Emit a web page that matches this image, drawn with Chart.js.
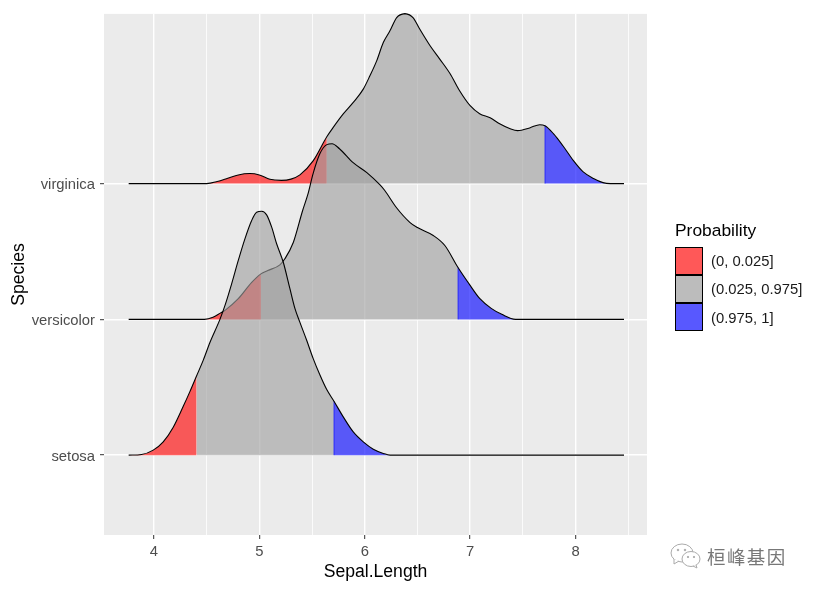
<!DOCTYPE html>
<html>
<head>
<meta charset="utf-8">
<title>Sepal.Length ridges</title>
<script src="https://cdn.jsdelivr.net/npm/chart.js@4"></script>
<style>
    body { margin: 0; background: #fff; font-family: "Liberation Sans", Arial, sans-serif; }
    #wrap { position: relative; width: 813px; height: 592px; overflow: hidden; }
    canvas { position: absolute; left: 0; top: 0; }
    .abs { position: absolute; white-space: nowrap; }
    .swatch { position: absolute; left: 675px; width: 26px; height: 26px; border: 1px solid #000; }
    .lab { font-size: 14.8px; color: #1a1a1a; left: 711px; line-height: 16px; }
    #watermark { left: 707px; top: 543px; font: 18.5px "Noto Sans CJK SC"; color: #777; line-height: 26px; letter-spacing: 1.4px; }
</style>
</head>
<body>
<div id="wrap">
    <canvas id="chart" width="813" height="592"></canvas>

    <div class="abs" style="left:675px;top:220px;font-size:17.4px;color:#000;line-height:20px">Probability</div>
    <div class="swatch" style="top:247px;background:#FF5858"></div>
    <div class="swatch" style="top:275px;background:#BCBCBC"></div>
    <div class="swatch" style="top:303px;background:#5858FF"></div>
    <div class="abs lab" style="top:253px">(0, 0.025]</div>
    <div class="abs lab" style="top:281px">(0.025, 0.975]</div>
    <div class="abs lab" style="top:310px">(0.975, 1]</div>

    <svg class="abs" style="left:669px;top:543px" width="34" height="28" viewBox="0 0 34 28" fill="#fff" stroke="#aaa" stroke-width="1">
        <ellipse cx="13" cy="10" rx="11" ry="9"/>
        <path d="M5 16 L5 21 L10 18"/>
        <ellipse cx="22" cy="16" rx="9" ry="7.5"/>
        <path d="M27 22 L28 25 L24 23"/>
        <circle cx="9" cy="7" r="0.8" fill="#999"/><circle cx="16" cy="7" r="0.8" fill="#999"/>
        <circle cx="19" cy="14" r="0.7" fill="#999"/><circle cx="25" cy="14" r="0.7" fill="#999"/>
    </svg>
    <div class="abs" id="watermark">桓峰基因</div>
</div>

<script>
document.addEventListener('DOMContentLoaded', () => {
    // 1. Data (x = Sepal.Length, heights in y axis units)
    const species = ['setosa', 'versicolor', 'virginica'];
    const xTicks = [4, 5, 6, 7, 8];
    const xMinorTicks = [4.5, 5.5, 6.5, 7.5, 8.5];
    const legendColors = ['#FF0000A0', '#A0A0A0A0', '#0000FFA0'];

    const setosaX = [3.76, 3.883, 3.993, 4.088, 4.183, 4.278, 4.342, 4.405, 4.468, 4.531, 4.626, 4.674, 4.737, 4.8, 4.863, 4.927, 4.974, 5.022, 5.069, 5.117, 5.164, 5.227, 5.29, 5.338, 5.385, 5.449, 5.511, 5.575, 5.638, 5.708, 5.796, 5.891, 5.986, 6.081, 6.176, 6.24, 8.46];
    const setosaH = [0, 0.005, 0.037, 0.098, 0.206, 0.36, 0.47, 0.585, 0.7, 0.83, 1.0, 1.103, 1.262, 1.434, 1.593, 1.728, 1.789, 1.796, 1.77, 1.679, 1.557, 1.421, 1.226, 1.079, 0.978, 0.846, 0.711, 0.59, 0.485, 0.397, 0.282, 0.171, 0.098, 0.044, 0.013, 0, 0];
    const setosaCuts = [4.405, 5.708];

    const versicolorX = [3.76, 4.48, 4.56, 4.63, 4.674, 4.8, 4.927, 5.015, 5.08, 5.195, 5.242, 5.322, 5.41, 5.46, 5.51, 5.575, 5.64, 5.69, 5.76, 5.89, 6.02, 6.145, 6.19, 6.3, 6.43, 6.5, 6.65, 6.76, 6.885, 7.0, 7.09, 7.2, 7.3, 7.43, 8.46];
    const versicolorH = [0, 0, 0.015, 0.046, 0.066, 0.152, 0.272, 0.335, 0.36, 0.402, 0.446, 0.566, 0.8, 0.92, 1.074, 1.221, 1.287, 1.294, 1.257, 1.154, 1.081, 0.99, 0.949, 0.824, 0.713, 0.676, 0.618, 0.544, 0.382, 0.25, 0.154, 0.081, 0.037, 0, 0];
    const versicolorCuts = [5.015, 6.885];

    const virginicaX = [3.76, 4.5, 4.6, 4.7, 4.8, 4.91, 5.0, 5.1, 5.21, 5.3, 5.385, 5.51, 5.64, 5.701, 5.796, 5.891, 5.986, 6.049, 6.113, 6.176, 6.239, 6.303, 6.381, 6.46, 6.52, 6.62, 6.71, 6.81, 6.9, 7.0, 7.09, 7.19, 7.28, 7.38, 7.45, 7.57, 7.66, 7.71, 7.79, 7.88, 7.98, 8.07, 8.17, 8.26, 8.33, 8.46];
    const virginicaH = [0, 0, 0.015, 0.039, 0.064, 0.074, 0.064, 0.032, 0.024, 0.033, 0.064, 0.167, 0.345, 0.414, 0.513, 0.598, 0.696, 0.794, 0.904, 1.039, 1.125, 1.223, 1.252, 1.221, 1.14, 1.015, 0.919, 0.809, 0.684, 0.574, 0.515, 0.485, 0.441, 0.404, 0.39, 0.412, 0.434, 0.426, 0.368, 0.279, 0.169, 0.088, 0.037, 0.007, 0, 0];
    const virginicaCuts = [5.64, 7.71];

    // 2. Build the datasets, back ridge gets the highest order
    const datasets = [];
    let order = 100;

    function addRidge(base, xs, hs, cuts) {
        const pts = xs.map((x, i) => ({ x: x, y: base + hs[i] }));
        const line = (data, extra) => Object.assign({
            data: data,
            order: order--,
            borderWidth: 0,
            pointRadius: 0,
            cubicInterpolationMode: 'monotone',
            clip: false,
            fill: false
        }, extra);

        const parts = [
            pts.filter(p => p.x <= cuts[0]),
            pts.filter(p => p.x >= cuts[0] && p.x <= cuts[1]),
            pts.filter(p => p.x >= cuts[1])
        ];
        parts.forEach((part, i) => {
            datasets.push(line(part, { fill: { target: { value: base } }, backgroundColor: legendColors[i] }));
        });

        // darker edge where the blue tail starts
        const edge = pts.find(p => p.x === cuts[1]);
        datasets.push(line([{ x: cuts[1], y: base }, edge], { borderWidth: 1, borderColor: '#0000FFA0', cubicInterpolationMode: 'default' }));

        datasets.push(line(pts, { borderWidth: 1.1, borderColor: '#000' }));
    }

    addRidge(3, virginicaX, virginicaH, virginicaCuts);
    addRidge(2, versicolorX, versicolorH, versicolorCuts);
    addRidge(1, setosaX, setosaH, setosaCuts);

    // 3. Grey panel behind everything
    const panelBackground = {
        id: 'panelBackground',
        beforeDraw(chart) {
            const a = chart.chartArea;
            chart.ctx.fillStyle = '#EBEBEB';
            chart.ctx.fillRect(a.left, a.top, a.right - a.left, a.bottom - a.top);
        }
    };

    const isMajor = v => xTicks.includes(v);

    // 4. Chart
    new Chart(document.getElementById('chart').getContext('2d'), {
        type: 'line',
        data: { datasets: datasets },
        plugins: [panelBackground],
        options: {
            responsive: false,
            animation: false,
            events: [],
            layout: { padding: { top: 13, right: 166, left: 0, bottom: 0 } },
            plugins: { legend: { display: false }, tooltip: { enabled: false } },
            scales: {
                x: {
                    type: 'linear',
                    min: 3.526,
                    max: 8.678,
                    afterBuildTicks(axis) {
                        axis.ticks = xTicks.concat(xMinorTicks).map(v => ({ value: v }));
                    },
                    afterFit(axis) { axis.height = 57; },
                    border: { display: false },
                    grid: {
                        color: '#FFFFFF',
                        lineWidth: c => (isMajor(c.tick.value) ? 1.4 : 0.8),
                        tickColor: c => (isMajor(c.tick.value) ? '#333333' : 'rgba(0,0,0,0)'),
                        tickLength: 4,
                        tickWidth: 1
                    },
                    ticks: {
                        autoSkip: false,
                        maxRotation: 0,
                        padding: 4,
                        color: '#4D4D4D',
                        font: { family: '"Liberation Sans"', size: 14.8 },
                        callback: v => (isMajor(v) ? String(v) : '')
                    },
                    title: {
                        display: true,
                        text: 'Sepal.Length',
                        color: '#000',
                        font: { family: '"Liberation Sans"', size: 17.6 },
                        padding: { top: 0, bottom: 9 }
                    }
                },
                y: {
                    type: 'linear',
                    min: 0.412,
                    max: 4.25,
                    afterBuildTicks(axis) {
                        axis.ticks = species.map((s, i) => ({ value: i + 1 }));
                    },
                    afterFit(axis) { axis.width = 104; },
                    border: { display: false },
                    grid: {
                        color: '#FFFFFF',
                        lineWidth: 1.4,
                        tickColor: '#333333',
                        tickLength: 4,
                        tickWidth: 1
                    },
                    ticks: {
                        autoSkip: false,
                        padding: 5,
                        labelOffset: 1.5,
                        color: '#4D4D4D',
                        font: { family: '"Liberation Sans"', size: 14.8 },
                        callback: v => species[v - 1]
                    },
                    title: {
                        display: true,
                        text: 'Species',
                        color: '#000',
                        font: { family: '"Liberation Sans"', size: 17.6 },
                        padding: { top: 9, bottom: 0 }
                    }
                }
            }
        }
    });
});
</script>
</body>
</html>
